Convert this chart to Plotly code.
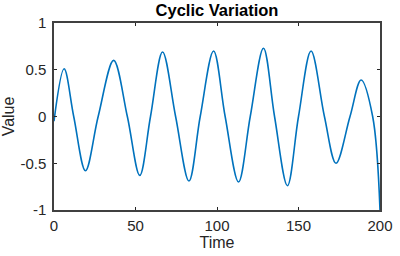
import plotly.graph_objects as go

# Key points (time, value): start, peaks, troughs, zero crossings
time = [0, 6.2, 12.1, 19.3, 27.1, 36.6, 45.0, 52.6, 59.2, 66.6, 74.6, 82.8, 89.7,
        97.9, 105.0, 113.2, 120.4, 128.5, 135.3, 143.2, 150.0, 157.7, 165.9, 173.0,
        181.6, 188.4, 195.5, 200]
value = [-0.05, 0.51, 0.0, -0.58, 0.0, 0.60, 0.0, -0.63, 0.0, 0.69, 0.0, -0.69, 0.0,
         0.70, 0.0, -0.70, 0.0, 0.73, 0.0, -0.74, 0.0, 0.70, 0.0, -0.50,
         0.0, 0.39, 0.0, -1.0]

x_ticks = [0, 50, 100, 150, 200]
y_ticks = [-1, -0.5, 0, 0.5, 1]
y_tick_labels = ["-1", "-0.5", "0", "0.5", "1"]

FONT = "Liberation Sans, Arial, sans-serif"

fig = go.Figure()
fig.add_trace(go.Scatter(
    x=time, y=value, mode="lines",
    line=dict(color="#0072BD", width=1.6, shape="spline", smoothing=1.0),
    showlegend=False,
))

axis_common = dict(
    showgrid=False, zeroline=False, automargin=False,
    showline=True, linecolor="#404040", linewidth=1.5, mirror="ticks",
    ticks="inside", ticklen=3, tickwidth=1, tickcolor="#262626",
    tickfont=dict(family=FONT, size=15, color="#262626"),
)

fig.update_layout(
    width=400, height=256,
    margin=dict(l=54, r=20, t=23, b=46),
    paper_bgcolor="white", plot_bgcolor="white",
    title=dict(text="<b>Cyclic Variation</b>", x=(54 + 380) / 2 / 400, xanchor="center",
               y=1 - 10 / 256, yanchor="middle",
               font=dict(family=FONT, size=16.5, color="black")),
    xaxis=dict(range=[0, 200], tickvals=x_ticks, ticklabelstandoff=1,
               title=dict(text="Time", standoff=3,
                          font=dict(family=FONT, size=16, color="#262626")),
               **axis_common),
    yaxis=dict(range=[-1, 1], tickvals=y_ticks, ticktext=y_tick_labels, ticklabelstandoff=3,
               title=dict(text="Value", standoff=2,
                          font=dict(family=FONT, size=16, color="#262626")),
               **axis_common),
)

fig.write_html("out.html")
